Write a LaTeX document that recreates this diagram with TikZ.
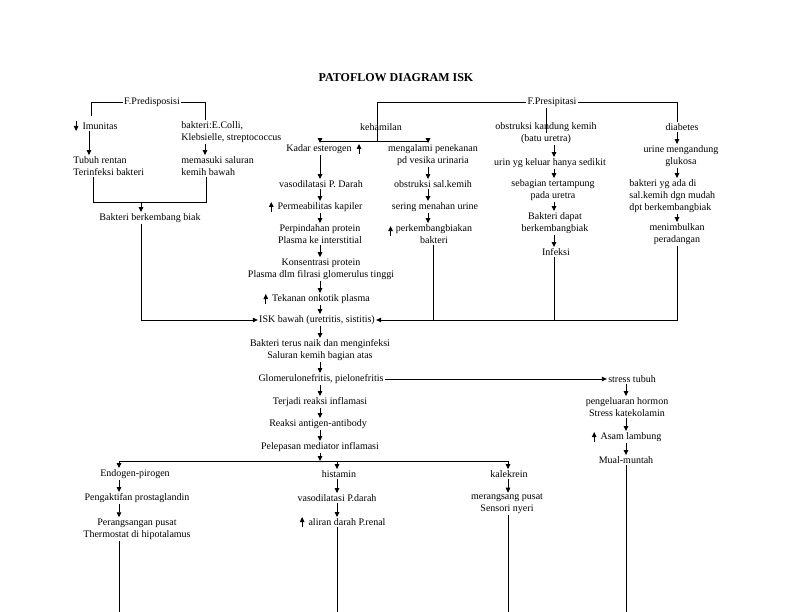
\documentclass[tikz,border=0pt]{standalone}
\usepackage{fontspec}
\setmainfont{Liberation Serif}
\usetikzlibrary{arrows.meta}

\begin{document}
\begin{tikzpicture}[x=1pt,y=-1pt,line width=0.8pt,
   every node/.style={font=\fontsize{10}{12}\selectfont,inner sep=1pt,align=center},
   arr/.style={-{Triangle[length=5pt,width=4.5pt]}},
   lft/.style={anchor=west,align=left}]
   \useasboundingbox (0,0) rectangle (792,612);

   \node[font=\fontsize{12}{14}\selectfont\bfseries] (judul) at (396,78) {PATOFLOW DIAGRAM ISK};

   % predisposisi
   \node (pred) at (152,102) {F.Predisposisi};
   \node (imun) at (100,126) {Imunitas};
   \node[lft] (bakt) at (180,132) {bakteri:E.Colli,\\Klebsielle, streptococcus};
   \node[lft] (tubuh) at (72,166) {Tubuh rentan\\Terinfeksi bakteri};
   \node[lft] (masuk) at (180,166) {memasuki saluran\\kemih bawah};
   \node (biak) at (150,218) {Bakteri berkembang biak};

   % presipitasi
   \node (presi) at (552,102) {F.Presipitasi};
   \node (hamil) at (381,127) {kehamilan};
   \node (estro) at (319,149) {Kadar esterogen};
   \node (tekan) at (433,155) {mengalami penekanan\\pd vesika urinaria};
   \node (vaso) at (321,184) {vasodilatasi P. Darah};
   \node (perm) at (320,207) {Permeabilitas kapiler};
   \node (pind) at (320,234) {Perpindahan protein\\Plasma ke interstitial};
   \node (kons) at (321,269) {Konsentrasi protein\\Plasma dlm filrasi glomerulus tinggi};
   \node (onko) at (321,299) {Tekanan onkotik plasma};
   \node (obsk) at (433,184) {obstruksi sal.kemih};
   \node (tahan) at (435,207) {sering menahan urine};
   \node (kemb) at (434,234) {perkembangbiakan\\bakteri};
   \node (obs) at (546,133) {obstruksi kandung kemih\\(batu uretra)};
   \node (urin) at (550,163) {urin yg keluar hanya sedikit};
   \node (tamp) at (553,190) {sebagian tertampung\\pada uretra};
   \node (dapat) at (555,223) {Bakteri dapat\\berkembangbiak};
   \node (infe) at (556,252) {Infeksi};
   \node (diab) at (682,127) {diabetes};
   \node (gluk) at (681,156) {urine mengandung\\glukosa};
   \node[lft] (mudah) at (628,196) {bakteri yg ada di\\sal.kemih dgn mudah\\dpt berkembangbiak};
   \node (radang) at (677,234) {menimbulkan\\peradangan};

   % ISK
   \node (isk) at (317,320) {ISK bawah (uretritis, sistitis)};
   \node (naik) at (320,350) {Bakteri terus naik dan menginfeksi\\Saluran kemih bagian atas};
   \node (glom) at (321,379) {Glomerulonefritis, pielonefritis};
   \node (infl) at (320,402) {Terjadi reaksi inflamasi};
   \node (anti) at (318,424) {Reaksi antigen-antibody};
   \node (medi) at (320,447) {Pelepasan mediator inflamasi};
   \node (stress) at (632,379) {stress tubuh};
   \node (horm) at (627,407) {pengeluaran hormon\\Stress katekolamin};
   \node (asam) at (631,437) {Asam lambung};
   \node (mual) at (626,460) {Mual-muntah};
   \node (endo) at (135,474) {Endogen-pirogen};
   \node (prost) at (137,498) {Pengaktifan prostaglandin};
   \node (therm) at (137,529) {Perangsangan pusat\\Thermostat di hipotalamus};
   \node (hist) at (339,474) {histamin};
   \node (vdar) at (337,498) {vasodilatasi P.darah};
   \node (renal) at (347,522) {aliran darah P.renal};
   \node (kale) at (509,474) {kalekrein};
   \node (nyeri) at (507,504) {merangsang pusat\\Sensori nyeri};

   \coordinate (cimun) at (89,0);
   \coordinate (cbakt) at (205,0);
   \coordinate (cmid) at (320,0);
   \coordinate (ctek) at (428,0);
   \coordinate (cobs) at (554,0);
   \coordinate (cdia) at (677,0);
   \coordinate (cstr) at (626,0);
   \coordinate (cend) at (119,0);
   \coordinate (chis) at (337,0);
   \coordinate (ckal) at (508,0);
   \coordinate (kiri) at (141,202);
   \coordinate (hs) at (377,141);
   \coordinate (ms) at (320,461);
   \coordinate (bawah) at (0,612);

   \draw (pred.west) -| ([xshift=-9pt,yshift=5pt]imun.north);
   \draw (pred.east) -| (cbakt |- bakt.north);
   \draw[arr] ([xshift=-5pt,yshift=5pt]imun.west) -- ([xshift=-5pt,yshift=-5pt]imun.west);
   \draw[arr] (imun.south -| cimun) -- (tubuh.north -| cimun);
   \draw[arr] (bakt.south -| cbakt) -- (masuk.north -| cbakt);
   \draw ([xshift=21pt]tubuh.south west) |- (kiri);
   \draw ([xshift=26pt]masuk.south west) |- (kiri);
   \draw[arr] (kiri) -- (kiri |- biak.north);
   \draw[arr] (biak.south -| kiri) |- (isk.west);

   \draw (presi.west) -| (hs);
   \draw[arr] (hs) -| (estro.north -| cmid);
   \draw[arr] (hs) -| (tekan.north -| ctek);
   \draw (presi.east) -| (diab.north -| cdia);
   \draw ([xshift=-6pt]presi.south) -- ([xshift=-6pt]presi.south |- obs.center);

   \draw[arr] ([xshift=6pt,yshift=-5pt]estro.east) -- ([xshift=6pt,yshift=5pt]estro.east);
   \draw[arr] (estro.south -| cmid) -- (vaso.north -| cmid);
   \draw[arr] (vaso.south -| cmid) -- (perm.north -| cmid);
   \draw[arr] ([xshift=-5pt,yshift=-5pt]perm.west) -- ([xshift=-5pt,yshift=5pt]perm.west);
   \draw[arr] (perm.south -| cmid) -- (pind.north -| cmid);
   \draw[arr] (pind.south -| cmid) -- (kons.north -| cmid);
   \draw[arr] (kons.south -| cmid) -- (onko.north -| cmid);
   \draw[arr] ([xshift=-5pt,yshift=-5pt]onko.west) -- ([xshift=-5pt,yshift=5pt]onko.west);
   \draw[arr] (onko.south -| cmid) -- (isk.north -| cmid);

   \draw[arr] (tekan.south -| ctek) -- (obsk.north -| ctek);
   \draw[arr] (obsk.south -| ctek) -- (tahan.north -| ctek);
   \draw[arr] (tahan.south -| ctek) -- (kemb.north -| ctek);
   \draw[arr] ([xshift=-4pt,yshift=-13pt]kemb.north west) -- ([xshift=-4pt,yshift=-3pt]kemb.north west);
   \draw ([xshift=-1pt]kemb.south) -- ([xshift=-1pt]kemb.south |- isk.east);

   \draw[arr] (obs.south -| cobs) -- (urin.north -| cobs);
   \draw[arr] (urin.south -| cobs) -- (tamp.north -| cobs);
   \draw[arr] (tamp.south -| cobs) -- (dapat.north -| cobs);
   \draw[arr] (dapat.south -| cobs) -- (infe.north -| cobs);
   \draw (infe.south -| cobs) -- (cobs |- isk.east);

   \draw[arr] (diab.south -| cdia) -- (gluk.north -| cdia);
   \draw[arr] (gluk.south -| cdia) -- (mudah.north -| cdia);
   \draw[arr] (mudah.south -| cdia) -- (radang.north -| cdia);
   \draw[arr] (radang.south -| cdia) |- (isk.east);

   \draw[arr] (isk.south -| cmid) -- (naik.north -| cmid);
   \draw[arr] (naik.south -| cmid) -- (glom.north -| cmid);
   \draw[arr] (glom) -- (stress);
   \draw[arr] (glom.south -| cmid) -- (infl.north -| cmid);
   \draw[arr] (infl.south -| cmid) -- (anti.north -| cmid);
   \draw[arr] (anti.south -| cmid) -- (medi.north -| cmid);
   \draw[arr] (medi.south -| cmid) -- (ms);

   \draw[arr] (stress.south -| cstr) -- (horm.north -| cstr);
   \draw[arr] (horm.south -| cstr) -- (asam.north -| cstr);
   \draw[arr] ([xshift=-5pt,yshift=-5pt]asam.west) -- ([xshift=-5pt,yshift=5pt]asam.west);
   \draw[arr] (asam.south -| cstr) -- (mual.north -| cstr);
   \draw (mual.south -| cstr) -- (bawah -| cstr);

   \draw[arr] (ms) -| (endo.north -| cend);
   \draw[arr] (ms) -| (kale.north -| ckal);
   \draw[arr] (ms -| chis) -- (hist.north -| chis);
   \draw[arr] (endo.south -| cend) -- (prost.north -| cend);
   \draw[arr] (prost.south -| cend) -- (therm.north -| cend);
   \draw (therm.south -| cend) -- (bawah -| cend);
   \draw[arr] (hist.south -| chis) -- (vdar.north -| chis);
   \draw[arr] (vdar.south -| chis) -- (renal.north -| chis);
   \draw[arr] ([xshift=-5pt,yshift=-5pt]renal.west) -- ([xshift=-5pt,yshift=5pt]renal.west);
   \draw (renal.south -| chis) -- (bawah -| chis);
   \draw[arr] (kale.south -| ckal) -- (nyeri.north -| ckal);
   \draw (nyeri.south -| ckal) -- (bawah -| ckal);
\end{tikzpicture}
\end{document}
